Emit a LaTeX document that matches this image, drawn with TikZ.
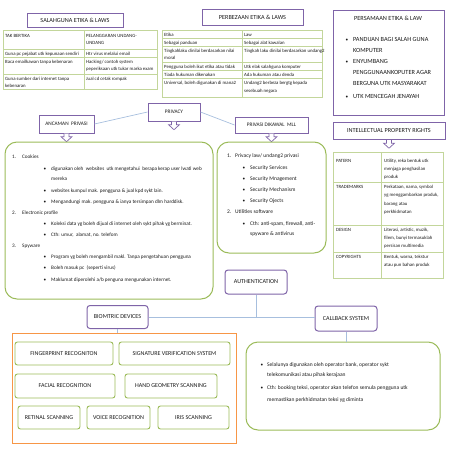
\documentclass[tikz,border=0pt]{standalone}
\usepackage{fontspec}
\setmainfont{Carlito}
\usetikzlibrary{calc}
\definecolor{purp}{HTML}{7F64A8}
\definecolor{grn}{HTML}{9BBB59}
\definecolor{tgrn}{HTML}{C3D69B}
\definecolor{org}{HTML}{F79646}
\definecolor{lblue}{HTML}{A7BFDE}
\definecolor{ink}{HTML}{1A1A1A}
\newcommand\dnarrow[1]{\draw[purp, line width=0.7pt, fill=white, line join=miter]
  ($(#1.south)+(-2.5,0)$) -- ++(0,3.2) -- ++(-3,0) -- ++(5.5,5) -- ++(5.5,-5) -- ++(-3,0) -- ++(0,-3.2);}
\begin{document}
\begin{tikzpicture}[x=1pt,y=-1pt,
  every node/.style={text=ink},
  ttl/.style={draw=purp, line width=1pt, fill=white, inner sep=0pt, font=\fontsize{6.2}{7}\selectfont},
  sttl/.style={ttl, font=\fontsize{5.3}{6}\selectfont},
  rbox/.style={draw=purp, line width=1pt, fill=white, rounded corners=3pt, inner sep=0pt, font=\fontsize{6.1}{7}\selectfont},
  gbox/.style={draw=grn, line width=0.9pt, rounded corners=2.5pt, inner sep=0pt, font=\fontsize{6}{7}\selectfont},
  big/.style={draw=grn, line width=1pt, rounded corners=12pt, inner sep=0pt},
  tx/.style={anchor=base west, inner sep=0pt, font=\fontsize{5.2}{6}\selectfont},
  tm/.style={anchor=base west, inner sep=0pt, font=\fontsize{5.5}{6}\selectfont},
  tp/.style={anchor=base west, inner sep=0pt, font=\fontsize{6.3}{7}\selectfont},
  tt/.style={anchor=base west, inner sep=0pt, font=\fontsize{4.8}{6}\selectfont},
  bul/.style={anchor=base, inner sep=0pt, font=\fontsize{5.2}{6}\selectfont},
  conn/.style={draw=lblue, line width=0.7pt},
  tab/.style={draw=tgrn, line width=0.6pt},
]
\useasboundingbox (0,0) rectangle (453,453);

% ---------- title boxes ----------
\node[ttl, minimum width=96pt, minimum height=14pt] (sal) at (75,20) {SALAHGUNA ETIKA \& LAWS};
\node[ttl, minimum width=101pt, minimum height=16pt] (per) at (252.5,17) {PERBEZAAN ETIKA \& LAWS};

% ---------- table 1 ----------
\draw[tab] (3,30) rectangle (157,89);
\draw[tab] (84,30) -- (84,89);
\draw[tab] (3,49) -- (157,49) (3,57) -- (157,57) (3,74) -- (157,74);
\node[tt] (ta1) at (5,37) {TAK BERTIKA};
\node[tt] (tb1) at (86,37) {PELANGGARAN UNDANG-};
\node[tt] (tb1b) at (86,44.5) {UNDANG};
\node[tt] (ta2) at (5,55) {Guna pc pejabat utk kepunaan sendiri};
\node[tt] (tb2) at (86,55) {Htr virus melalui email};
\node[tt] (ta3) at (5,63) {Baca emailkawan tanpa kebenaran};
\node[tt] (tb3) at (86,63) {Hacking/ contoh system};
\node[tt] (tb3b) at (86,70.5) {peperiksaan utk tukar marka exam};
\node[tt] (ta4) at (5,80.5) {Guna sumber dari internet tanpa};
\node[tt] (ta4b) at (5,87) {kebenaran};
\node[tt] (tb4) at (86,80.5) {Jual cd cetak rompak};

% ---------- table 2 ----------
\draw[tab] (162,30) rectangle (322,97);
\draw[tab] (242,30) -- (242,97);
\draw[tab] (162,38) -- (322,38) (162,46) -- (322,46) (162,62) -- (322,62) (162,70) -- (322,70) (162,78) -- (322,78);
\node[tt] (pa1) at (164,36) {Etika};
\node[tt] (pb1) at (244,36) {Law};
\node[tt] (pa2) at (164,44) {Sebagai panduan};
\node[tt] (pb2) at (244,44) {Sebagai alat kawalan};
\node[tt] (pa3) at (164,52.5) {Tingkahlaku dinilai berdasarkan nilai};
\node[tt] (pa3b) at (164,59.5) {moral};
\node[tt] (pb3) at (244,52.5) {Tingkah laku dinilai berdasarkan undang2};
\node[tt] (pa4) at (164,68) {Pengguna boleh ikut etika atau tidak};
\node[tt] (pb4) at (244,68) {Utk elak salahguna komputer};
\node[tt] (pa5) at (164,76) {Tiada hukuman dikenakan};
\node[tt] (pb5) at (244,76) {Ada hukuman atau denda};
\node[tt] (pa6) at (164,84.5) {Universal, boleh digunakan di mana2};
\node[tt] (pb6) at (244,84.5) {Undang2 berbeza bergtg kepada};
\node[tt] (pb6b) at (244,92) {sesebuah negara};

% ---------- persamaan ----------
\node[draw=purp, line width=1pt, fill=white, minimum width=111pt, minimum height=105pt, inner sep=0pt] (pers) at (388.5,62.5) {};
\node[anchor=base, inner sep=0pt, font=\fontsize{6.3}{7}\selectfont] (perst) at (388,20) {PERSAMAAN ETIKA \& LAW};
\node[bul] (ps1) at (347,41.5) {\textbullet};
\node[tp] (pt1) at (353,41.5) {PANDUAN BAGI SALAH GUNA};
\node[tp] (pt1b) at (353,52) {KOMPUTER};
\node[bul] (ps2) at (347,63.5) {\textbullet};
\node[tp] (pt2) at (353,63.5) {ENYUMBANG};
\node[tp] (pt2b) at (353,74.5) {PENGGUNAANKOPUTER AGAR};
\node[tp] (pt2c) at (353,85) {BERGUNA UTK MASYARAKAT};
\node[bul] (ps3) at (347,98.5) {\textbullet};
\node[tp] (pt3) at (353,98.5) {UTK MENCEGAH JENAYAH};

% ---------- privacy ----------
\node[sttl, minimum width=52pt, minimum height=18pt] (priv) at (174,112) {PRIVACY};
\node[sttl, minimum width=55pt, minimum height=18pt] (anc) at (66.5,124) {ANCAMAN\ \ PRIVASI};
\node[sttl, minimum width=73pt, minimum height=16pt] (pdk) at (271.5,125) {PRIVASI DIKAWAL\ \ MLL};
\draw[conn] (priv.west) -- (anc.east);
\draw[conn] (priv.east) -- (pdk.west);
\dnarrow{priv}
\dnarrow{anc}
\dnarrow{pdk}

% ---------- IPR ----------
\node[ttl, minimum width=112pt, minimum height=17pt] (ipr) at (389,131) {INTELLECTUAL PROPERTY RIGHTS};
\dnarrow{ipr}
\draw[tab] (333,152) rectangle (443,278);
\draw[tab] (381,152) -- (381,278);
\draw[tab] (333,182) -- (443,182) (333,225) -- (443,225) (333,252) -- (443,252);
\node[tt] (ia1) at (336,162) {PATERN};
\node[tt] (ib1) at (384,162) {Utility, reka bentuk utk};
\node[tt] (ib1b) at (384,170) {menjaga penghasilan};
\node[tt] (ib1c) at (384,178) {produk};
\node[tt] (ia2) at (336,188) {TRADEMARKS};
\node[tt] (ib2) at (384,188) {Perkataan, nama, symbol};
\node[tt] (ib2b) at (384,196.5) {yg menggambarkan produk,};
\node[tt] (ib2c) at (384,205) {barang atau};
\node[tt] (ib2d) at (384,213.5) {perkhidmatan};
\node[tt] (ia3) at (336,231.5) {DESIGN};
\node[tt] (ib3) at (384,231.5) {Literasi, artistic, muzik,};
\node[tt] (ib3b) at (384,239.5) {filem, bunyi termasuklah};
\node[tt] (ib3c) at (384,247) {persisan multimedia};
\node[tt] (ia4) at (336,258) {COPYRIGHTS};
\node[tt] (ib4) at (384,258) {Bentuk, warna, tekstur};
\node[tt] (ib4b) at (384,266) {atau pun bahan produk};

% ---------- left content box ----------
\node[big, minimum width=208pt, minimum height=157pt] (lb) at (109,220.5) {};
\node[tx] (l1n) at (12,158.5) {1.};
\node[tx] (l1) at (22,158.5) {Cookies};
\node[bul] (l1s1) at (45,170) {\textbullet};
\node[tx] (l1a) at (51,170) {digunakan oleh\ \ websites\ \ utk mengetahui\ \ berapa kerap user lwati web};
\node[tx] (l1ab) at (51,180.5) {mereka};
\node[bul] (l1s2) at (45,192) {\textbullet};
\node[tx] (l1b) at (51,192) {websites kumpul mak. pengguna \& jual kpd sykt lain.};
\node[bul] (l1s3) at (45,203.5) {\textbullet};
\node[tx] (l1c) at (51,203.5) {Mengandungi mak. pengguna \& ianya tersimpan dlm harddisk.};
\node[tx] (l2n) at (12,214.5) {2.};
\node[tx] (l2) at (22,214.5) {Electronic profile};
\node[bul] (l2s1) at (45,225.5) {\textbullet};
\node[tx] (l2a) at (51,225.5) {Koleksi data yg boleh dijual di internet oleh sykt pihak yg berminat.};
\node[bul] (l2s2) at (45,236.5) {\textbullet};
\node[tx] (l2b) at (51,236.5) {Cth: umur,\ \ alamat, no. telefom};
\node[tx] (l3n) at (12,247.5) {3.};
\node[tx] (l3) at (22,247.5) {Spyware};
\node[bul] (l3s1) at (45,258.5) {\textbullet};
\node[tx] (l3a) at (51,258.5) {Program yg boleh mengambil makl. Tanpa pengetahuan pengguna};
\node[bul] (l3s2) at (45,269.5) {\textbullet};
\node[tx] (l3b) at (51,269.5) {Boleh masuk pc\ \ (seperti virus)};
\node[bul] (l3s3) at (45,281.5) {\textbullet};
\node[tx] (l3c) at (51,281.5) {Maklumat diperolehi a/b penguna mengunakan internet.};

% ---------- middle content box ----------
\node[big, minimum width=109pt, minimum height=111pt] (mb) at (271.5,197.5) {};
\node[tm] (m1n) at (227,157) {1.};
\node[tm] (m1) at (235,157) {Privacy law/ undang2 privasi};
\node[bul] (m1s1) at (244,169.5) {\textbullet};
\node[tm] (m1a) at (250,169.5) {Security Services};
\node[bul] (m1s2) at (244,180.5) {\textbullet};
\node[tm] (m1b) at (250,180.5) {Security Mnagement};
\node[bul] (m1s3) at (244,191.5) {\textbullet};
\node[tm] (m1c) at (250,191.5) {Security Mechanism};
\node[bul] (m1s4) at (244,202) {\textbullet};
\node[tm] (m1d) at (250,202) {Security Ojects};
\node[tm] (m2n) at (227,213.5) {2.};
\node[tm] (m2) at (235,213.5) {Utilities software};
\node[bul] (m2s1) at (244,225) {\textbullet};
\node[tm] (m2a) at (250,225) {Cth: anti-spam, firewall, anti-};
\node[tm] (m2ab) at (250,235) {spyware \& antivirus};

% ---------- authentication ----------
\node[rbox, minimum width=62pt, minimum height=24pt] (auth) at (256,282) {AUTHENTICATION};
\node[rbox, minimum width=61pt, minimum height=23pt] (bio) at (117.5,317) {BIOMTRIC DEVICES};
\node[rbox, minimum width=62pt, minimum height=25pt] (cb) at (346,318.5) {CALLBACK SYSTEM};
\draw[conn] (bio.east) -- (bio.east -| cb.west);
\draw[conn] (auth.south) -- (auth.south |- bio.east);

% ---------- biometric group ----------
\node[draw=org, line width=1pt, minimum width=224pt, minimum height=110pt, inner sep=0pt] (orb) at (124,388) {};
\draw[conn] (bio.south) -- (bio.south |- orb.north);
\node[gbox, minimum width=98pt, minimum height=23pt] (fp) at (64,353.5) {FINGERPRINT RECOGNITON};
\node[gbox, minimum width=111pt, minimum height=23pt] (sig) at (174.5,353.5) {SIGNATURE VERIFICATION SYSTEM};
\node[gbox, minimum width=100pt, minimum height=24pt] (fac) at (65,386) {FACIAL RECOGNITION};
\node[gbox, minimum width=92pt, minimum height=24pt] (hand) at (171,386) {HAND GEOMETRY SCANNING};
\node[gbox, minimum width=62pt, minimum height=23pt] (ret) at (49,417.5) {RETINAL SCANNING};
\node[gbox, minimum width=63pt, minimum height=23pt] (voi) at (118.5,417.5) {VOICE RECOGNITION};
\node[gbox, minimum width=71pt, minimum height=23pt] (iris) at (193.5,417.5) {IRIS SCANNING};

% ---------- callback content ----------
\node[big, minimum width=194pt, minimum height=88pt] (cbc) at (343,386) {};
\draw[conn] (cb.south) -- (cb.south |- cbc.north);
\node[bul] (c1s) at (262,366.5) {\textbullet};
\node[tm] (c1) at (267,366.5) {Selalunya digunakan oleh operator bank, operator sykt};
\node[tm] (c1b) at (267,376.5) {telekomunikasi atau pihak kerajaan};
\node[bul] (c2s) at (262,389.5) {\textbullet};
\node[tm] (c2) at (267,389.5) {Cth: booking teksi, operator akan telefon semula pengguna utk};
\node[tm] (c2b) at (267,401.5) {memastikan perkhidmatan teksi yg diminta};
\end{tikzpicture}
\end{document}
